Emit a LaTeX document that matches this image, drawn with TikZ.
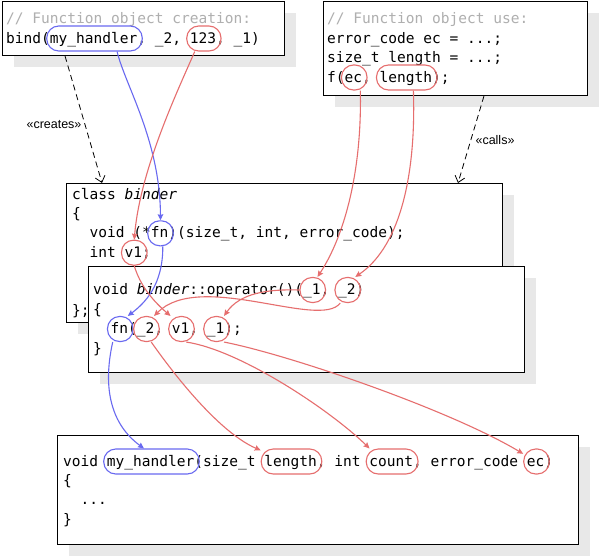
\documentclass[tikz,border=0pt]{standalone}
\usepackage{fontspec}
\setmainfont{Liberation Sans}
\newfontfamily\codefont{DejaVu Sans Mono}
\usetikzlibrary{arrows.meta,shadows,calc}
\definecolor{hblue}{RGB}{105,105,240}
\definecolor{hred}{RGB}{230,110,110}
\definecolor{cmtgray}{RGB}{175,175,175}
\definecolor{shgray}{RGB}{232,232,232}
\newcommand\ovl[6]{\node[oval, draw=#2, minimum width={max(#6*8.75+8,25)}] (#1) at ({#3+(#5+#6/2)*8.75+1},{#4-4.5}) {};}
\begin{document}
\begin{tikzpicture}[x=1pt,y=-1pt,
  box/.style={draw=black, line width=0.9pt, fill=white, anchor=north west, inner sep=0pt,
    drop shadow={shadow xshift=12pt, shadow yshift=-12pt, fill=shgray, opacity=1}},
  code/.style={font=\codefont\fontsize{14.53}{19.4}\selectfont\frenchspacing, anchor=base west, inner sep=0pt},
  cmt/.style={code, text=cmtgray},
  oval/.style={rounded corners=12pt, minimum height=25pt, line width=1.1pt, inner sep=0pt},
  bl/.style={hblue, line width=1.1pt, -{Stealth[length=6pt,width=5.5pt,inset=0.8pt]}},
  rd/.style={hred, line width=1.1pt, -{Stealth[length=6pt,width=5.5pt,inset=0.8pt]}},
  dep/.style={black, line width=0.8pt, dash pattern=on 6pt off 4pt, -{Straight Barb[length=6pt,width=10pt]}},
  lbl/.style={font=\fontsize{12.5}{14}\selectfont, inner sep=0pt}
]
\fill[white] (0,0) rectangle (599,557);
\useasboundingbox (0,0) rectangle (599,557);

% creation box
\node[box, minimum width=282pt, minimum height=54pt] (box1) at (2,1) {};
\node[cmt] (b1l1) at (6,23.5) {// Function object creation:};
\node[code] (b1l2) at (6,43) {bind(my\_handler, \_2, 123, \_1)};
\ovl{mh1}{hblue}{6}{43}{5}{10}
\ovl{n123}{hred}{6}{43}{21}{3}

% use box
\node[box, minimum width=264pt, minimum height=94pt] (box2) at (323,1) {};
\node[cmt] (b2l1) at (327,23.5) {// Function object use:};
\node[code] (b2l2) at (327,43) {error\_code ec = ...;};
\node[code] (b2l3) at (327,62.5) {size\_t length = ...;};
\node[code] (b2l4) at (327,82) {f(ec, length);};
\ovl{ecu}{hred}{327}{82}{2}{2}
\ovl{lenu}{hred}{327}{82}{6}{6}

% binder class
\node[box, minimum width=436pt, minimum height=139pt] (binder) at (66,183) {};
\node[code] (bnl1) at (72,199) {class \textit{binder}};
\node[code] (bnl2) at (72,218.4) {\{};
\node[code] (bnl3) at (89.5,237.8) {void (*fn)(size\_t, int, error\_code);};
\node[code] (bnl4) at (89.5,257.2) {int v1;};
\node[code] (bnl5) at (72,315.4) {\};};
\ovl{fnb}{hblue}{72}{237.8}{9}{2}
\ovl{vb}{hred}{72}{257.2}{6}{2}

% operator()
\node[box, minimum width=436pt, minimum height=106pt] (oper) at (88,266) {};
\node[code] (opl1) at (93,294.5) {void \textit{binder}::operator()(\_1, \_2)};
\node[code] (opl2) at (93,314) {\{};
\node[code] (opl3) at (110.5,333.5) {fn(\_2, v1, \_1);};
\node[code] (opl4) at (93,353) {\}};
\ovl{ha}{hred}{93}{294.5}{24}{2}
\ovl{hb}{hred}{93}{294.5}{28}{2}
\ovl{fno}{hblue}{93}{333.5}{2}{2}
\ovl{cb}{hred}{93}{333.5}{5}{2}
\ovl{cv}{hred}{93}{333.5}{9}{2}
\ovl{ca}{hred}{93}{333.5}{13}{2}

% handler
\node[box, minimum width=521pt, minimum height=109pt] (handler) at (57,435) {};
\node[code] (hl1) at (63,466) {void my\_handler(size\_t length, int count, error\_code ec)};
\node[code] (hl2) at (63,485.4) {\{};
\node[code] (hl3) at (80.5,504.8) {...};
\node[code] (hl4) at (63,524.2) {\}};
\ovl{mhh}{hblue}{63}{466}{5}{10}
\ovl{lenh}{hred}{63}{466}{23}{6}
\ovl{cnth}{hred}{63}{466}{35}{5}
\ovl{ech}{hred}{63}{466}{53}{2}

% dependency arrows
\draw[dep] ($(box1.south west)+(63,0)$) -- ($(binder.north west)+(36,0)$);
\node[lbl] (lcreates) at (54,125) {«creates»};
\draw[dep] ($(box2.south west)+(161,0)$) -- ($(binder.north west)+(392,0)$);
\node[lbl] (lcalls) at (495,140) {«calls»};

% data flow
\draw[bl] (mh1.-30) .. controls (125,85) and (160,140) .. (fnb.north);
\draw[rd] (n123.-125) .. controls (178,90) and (140,170) .. (vb.north);
\draw[bl] (fnb.-80) .. controls (163,285) and (145,303) .. (fno.60);
\draw[bl] (fno.-120) .. controls (102,390) and (112,425) .. (mhh.120);
\draw[rd] (ecu.-65) .. controls (362,170) and (345,235) .. (ha.70);
\draw[rd] (lenu.-63) .. controls (416,170) and (402,245) .. (hb.60);
\draw[rd] (vb.south) .. controls (140,285) and (152,300) .. (cv.130);
\draw[rd] (ha.west) .. controls (268,289) and (240,293) .. (ca.60);
\draw[rd] (hb.-120) .. controls (320,330) and (200,270) .. (cb.60);
\draw[rd] (cb.-70) .. controls (185,390) and (225,435) .. (lenh.160);
\draw[rd] (cv.-70) .. controls (240,350) and (330,410) .. (cnth.150);
\draw[rd] (ca.-60) .. controls (290,355) and (450,410) .. (ech.150);
\end{tikzpicture}
\end{document}
